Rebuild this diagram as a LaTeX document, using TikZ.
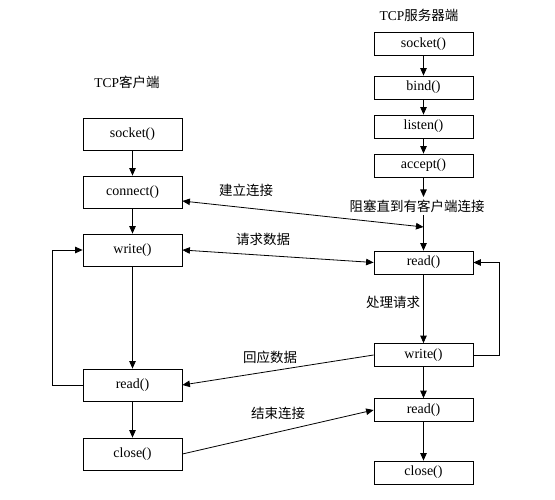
\documentclass[tikz,border=0pt]{standalone}
\usepackage{fontspec}
\setmainfont{Liberation Serif}
\newfontfamily\cjk{Noto Sans CJK SC}
\usetikzlibrary{arrows.meta}
\begin{document}
\begin{tikzpicture}[x=1pt,y=-1pt,
  cbox/.style={draw, line width=0.8pt, minimum width=99pt, minimum height=32pt, inner sep=0pt, font=\fontsize{14}{16}\selectfont},
  sbox/.style={cbox, minimum height=23pt},
  ttl/.style={inner sep=0pt, font=\fontsize{13.5}{15}\selectfont},
  lbl/.style={inner sep=0pt, font=\cjk\fontsize{13.5}{15}\selectfont},
  arr/.style={-{Triangle[length=7.5pt,width=6.5pt]}, line width=0.8pt},
  darr/.style={{Triangle[length=7.5pt,width=6.5pt]}-{Triangle[length=7.5pt,width=6.5pt]}, line width=0.8pt}]
\useasboundingbox (0,0) rectangle (555,499);
% client
\node[ttl] (ctitle) at (127,82) {TCP{\cjk 客户端}};
\node[cbox] (csock) at (132.5,134) {socket()};
\node[cbox] (cconn) at (132.5,192) {connect()};
\node[cbox] (cwrite) at (132.5,250) {write()};
\node[cbox] (cread) at (132.5,385) {read()};
\node[cbox] (cclose) at (132.5,454) {close()};
% server
\node[ttl] (stitle) at (419,15) {TCP{\cjk 服务器端}};
\node[sbox] (ssock) at (423.5,44) {socket()};
\node[sbox] (sbind) at (423.5,87.5) {bind()};
\node[sbox] (slisten) at (423.5,126.5) {listen()};
\node[sbox] (saccept) at (423.5,165.5) {accept()};
\node[lbl, inner sep=2.5pt] (blk) at (417,206) {阻塞直到有客户端连接};
\node[sbox] (sread) at (423.5,262.5) {read()};
\node[sbox] (swrite) at (423.5,355) {write()};
\node[sbox] (sread2) at (423.5,410) {read()};
\node[sbox] (sclose) at (423.5,472.5) {close()};
\coordinate (conn) at (423.5,227);
% labels
\node[lbl] (l1) at (246,190) {建立连接};
\node[lbl] (l2) at (263,239) {请求数据};
\node[lbl] (l3) at (270,357) {回应数据};
\node[lbl] (l4) at (278,413) {结束连接};
\node[lbl] (l5) at (393,302) {处理请求};
% client flow
\draw[arr] (csock) -- (cconn);
\draw[arr] (cconn) -- (cwrite);
\draw[arr] (cwrite) -- (cread);
\draw[arr] (cread) -- (cclose);
\draw[arr] (cread.west) -- ++(-30,0) |- (cwrite.west);
% server flow
\draw[arr] (ssock) -- (sbind);
\draw[arr] (sbind) -- (slisten);
\draw[arr] (slisten) -- (saccept);
\draw[arr] (saccept.south) -- (saccept.south |- blk.north);
\draw[arr] (saccept.south |- blk.south) -- (sread.north);
\draw[arr] (sread) -- (swrite);
\draw[arr] (swrite) -- (sread2);
\draw[arr] (sread2) -- (sclose);
\draw[arr] (swrite.east) -- ++(26,0) |- (sread.east);
% interactions
\draw[darr] ([yshift=-9pt]cconn.east) -- (conn);
\draw[darr] (cwrite.east) -- (sread.west);
\draw[arr] (swrite.west) -- (cread.east);
\draw[arr] (cclose.east) -- (sread2.west);
\end{tikzpicture}
\end{document}
